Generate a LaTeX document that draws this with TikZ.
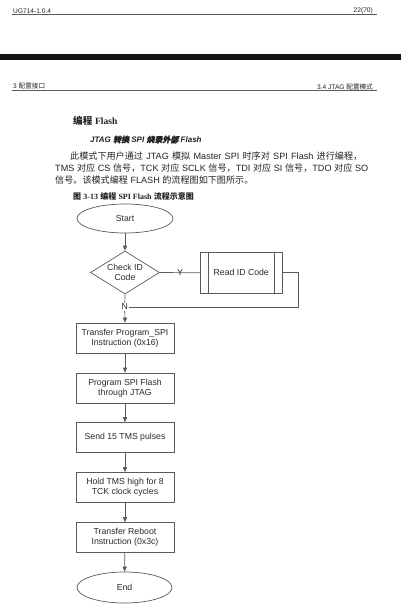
\documentclass[tikz,border=0pt]{standalone}
\usepackage{fontspec}
\setmainfont{Liberation Sans}
\newfontfamily\cjk{Noto Sans CJK SC}
\newfontfamily\cjki[FakeSlant=0.2,FakeBold=1.2]{Noto Sans CJK SC}
\newfontfamily\tms{Liberation Serif}
\usetikzlibrary{shapes.geometric,arrows.meta}
\newcommand\zh[1]{{\cjk #1}}
\newcommand\zhi[1]{{\cjki #1}}
\definecolor{linec}{HTML}{5A5A5A}
\definecolor{textc}{HTML}{2A2A2A}
\definecolor{bodyc}{HTML}{222222}
\definecolor{barc}{HTML}{141414}
\begin{document}
\begin{tikzpicture}[x=1pt,y=-1pt,
  fc/.style={font=\fontsize{8.7}{10.4}\selectfont, text=textc},
  stepbox/.style={fc, draw=linec, line width=0.7pt, rectangle, minimum width=98pt, minimum height=30pt, align=center, inner sep=0pt},
  term/.style={fc, draw=linec, line width=0.7pt, ellipse, minimum width=96pt, minimum height=29pt, inner sep=0pt},
  dec/.style={fc, draw=linec, line width=0.7pt, diamond, aspect=1.6, minimum width=69pt, minimum height=43pt, inner sep=0pt, align=center},
  arr/.style={draw=linec, line width=0.7pt, -{Triangle[width=4.2pt,length=5pt]}},
  ln/.style={draw=linec, line width=0.7pt},
  hdr/.style={font=\fontsize{6.6}{8}\selectfont, text=bodyc, inner sep=0pt},
  body/.style={font=\fontsize{9.1}{11}\selectfont, text=bodyc, inner sep=0pt, anchor=west}
]
\useasboundingbox (0,0) rectangle (401,613);
\fill[white] (0,0) rectangle (401,613);

% page header
\node[hdr, anchor=west] (ug) at (13,11) {UG714-1.0.4};
\node[hdr, anchor=east] (pg) at (373,11) {22(70)};
\draw[linec, line width=0.8pt] (12,14.8) -- (377,14.8);
\fill[barc] (0,53.5) rectangle (401,59.5);
\node[hdr, anchor=west] (ch) at (13,86.5) {3 \zh{配置接口}};
\node[hdr, anchor=east] (sec) at (373,86.5) {3.4 JTAG \zh{配置模式}};
\draw[linec, line width=0.8pt] (12,90.7) -- (377,90.7);

% headings and body
\node[body, anchor=west, font=\fontsize{9.6}{11}\selectfont\bfseries] (tt) at (73,120.5) {\zh{编程} {\tms Flash}};
\node[body, anchor=west, font=\fontsize{8}{9}\selectfont\bfseries\itshape] (st) at (90,139.5) {JTAG \zhi{转换} SPI \zhi{烧录外部} Flash};
\node[body] (l1) at (70,156.5) {\makebox[292pt][s]{\zh{此模式下用户通过} JTAG \zh{模拟} Master SPI \zh{时序对} SPI Flash \zh{进行编程，}}};
\node[body] (l2) at (55,168.3) {\makebox[313pt][s]{TMS \zh{对应} CS \zh{信号，}TCK \zh{对应} SCLK \zh{信号，}TDI \zh{对应} SI \zh{信号，}TDO \zh{对应} SO}};
\node[body] (l3) at (55,180) {\zh{信号。该模式编程} FLASH \zh{的流程图如下图所示。}};
\node[body, font=\fontsize{8}{9}\selectfont\bfseries] (cap) at (73,196.5) {\zh{图} {\tms 3-13} \zh{编程} {\tms SPI Flash} \zh{流程示意图}};

% flowchart
\node[term] (start) at (125,218.5) {Start};
\node[dec] (chk) at (125,272.5) {Check ID\\Code};
\node[stepbox, minimum width=81.5pt, minimum height=40.5pt] (read) at (241.25,272.8) {Read ID Code};
\draw[ln] ([xshift=8pt]read.north west) -- ([xshift=8pt]read.south west);
\draw[ln] ([xshift=-8pt]read.north east) -- ([xshift=-8pt]read.south east);
\node[fc, inner sep=0.6pt] (n) at (124.8,307) {N};
\coordinate (loopc) at (298.3,272.8);
\node[stepbox] (b1) at (125,338) {Transfer Program\_SPI\\Instruction (0x16)};
\node[stepbox] (b2) at (125,388) {Program SPI Flash\\through JTAG};
\node[stepbox] (b3) at (125,437.5) {Send 15 TMS pulses};
\node[stepbox] (b4) at (125,487.5) {Hold TMS high for 8\\TCK clock cycles};
\node[stepbox] (b5) at (125,537.5) {Transfer Reboot\\Instruction (0x3c)};
\node[term, minimum width=95pt, minimum height=31pt] (end) at (124.5,587.5) {End};

\draw[arr] (start) -- (chk);
\draw[ln] (chk.east) -- node[fc, inner sep=0pt] {Y} (read.west);
\draw[ln] (read.east) -- (loopc) |- (n.east);
\draw[ln] (chk.south) -- (n.north);
\draw[arr] (n.south) -- (b1.north);
\draw[arr] (b1) -- (b2);
\draw[arr] (b2) -- (b3);
\draw[arr] (b3) -- (b4);
\draw[arr] (b4) -- (b5);
\draw[arr] (b5) -- (end);
\end{tikzpicture}
\end{document}
